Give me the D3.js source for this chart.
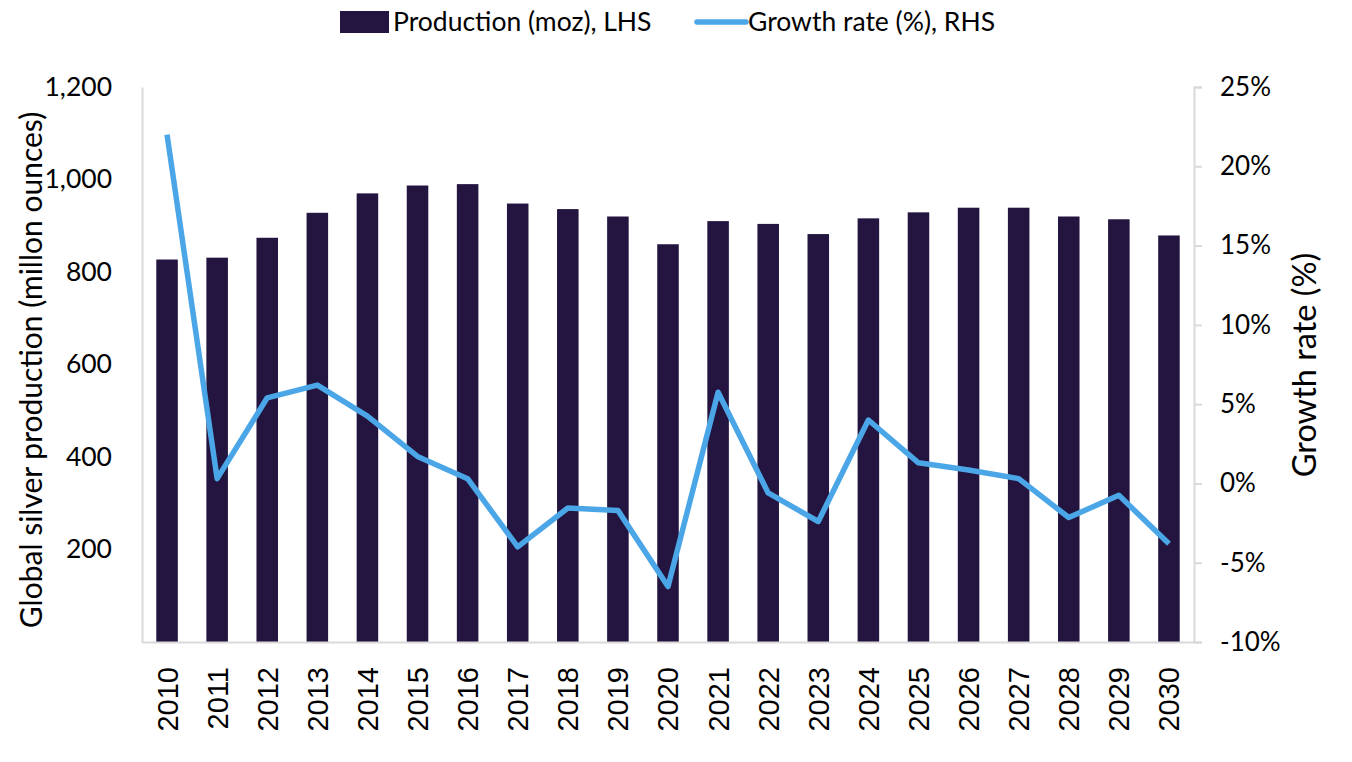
<!DOCTYPE html>
<html>
<head>
<meta charset="utf-8">
<script src="https://cdn.jsdelivr.net/npm/d3@7"></script>
<style>
  html, body { margin: 0; padding: 0; background: #ffffff; }
  svg { display: block; }
</style>
</head>
<body>
<svg id="chart" width="1352" height="762"></svg>
<script>
const years = ["2010","2011","2012","2013","2014","2015","2016","2017","2018","2019","2020",
               "2021","2022","2023","2024","2025","2026","2027","2028","2029","2030"];
const production = [827, 831, 874, 928, 970, 987, 990, 948, 936, 920, 860,
                    910, 904, 882, 916, 929, 939, 939, 920, 914, 879];
const growth = [22.0, 0.3, 5.4, 6.2, 4.25, 1.7, 0.3, -4.0, -1.55, -1.7, -6.5,
                5.75, -0.6, -2.4, 4.0, 1.3, 0.85, 0.3, -2.15, -0.75, -3.8];
const leftTicks = [200, 400, 600, 800, 1000, 1200];
const rightTicks = [-10, -5, 0, 5, 10, 15, 20, 25];
const legendLabels = ["Production (moz), LHS", "Growth rate (%), RHS"];
const leftTitle = "Global silver production (millon ounces)";
const rightTitle = "Growth rate (%)";

const barColor = "#231540";
const lineColor = "#4BA6E7";
const axisColor = "#D9D9D9";
const textColor = "#000000";
const uiFont = "Lato, 'Open Sans', 'Noto Sans', sans-serif";
const xFont = "'Liberation Sans', Arial, sans-serif";

const svg = d3.select("#chart");
const L = 142, R = 1194, T = 87, B = 642;

const x = d3.scaleBand().domain(years).range([L, R]).paddingInner(0.57).paddingOuter(0.285);
const yL = d3.scaleLinear().domain([0, 1200]).range([B, T]);
const yR = d3.scaleLinear().domain([-10, 25]).range([B, T]);

// Bars
svg.append("g").selectAll("rect").data(years).join("rect")
  .attr("x", d => x(d))
  .attr("width", x.bandwidth())
  .attr("y", (d, i) => yL(production[i]))
  .attr("height", (d, i) => yL(0) - yL(production[i]))
  .attr("fill", barColor);

// Left axis (line only, no tick marks)
const gL = svg.append("g").attr("transform", `translate(${L},0)`)
  .call(d3.axisLeft(yL).tickValues(leftTicks).tickFormat(d3.format(",")).tickSize(0).tickPadding(30));
gL.select(".domain").attr("stroke", axisColor).attr("stroke-width", 2);
gL.selectAll("text").attr("font-family", uiFont).attr("font-size", 26.5).attr("fill", textColor);

// Right axis
const gR = svg.append("g").attr("transform", `translate(${R},0)`)
  .call(d3.axisRight(yR).tickValues(rightTicks).tickFormat(d => d + "%").tickSize(8).tickSizeOuter(8).tickPadding(18));
gR.select(".domain").attr("stroke", axisColor).attr("stroke-width", 2);
gR.selectAll(".tick line").attr("stroke", axisColor).attr("stroke-width", 2);
gR.selectAll("text").attr("font-family", uiFont).attr("font-size", 26).attr("fill", textColor);

// Bottom axis
const gB = svg.append("g").attr("transform", `translate(0,${B})`)
  .call(d3.axisBottom(x).tickSize(0).tickSizeOuter(0));
gB.select(".domain").attr("stroke", axisColor).attr("stroke-width", 2);
gB.selectAll("text")
  .attr("font-family", xFont).attr("font-size", 29).attr("fill", textColor)
  .attr("text-anchor", "end")
  .attr("transform", "rotate(-90)")
  .attr("x", -25).attr("y", 0).attr("dy", "0.36em");

// Growth line
const line = d3.line()
  .x((d, i) => x(years[i]) + x.bandwidth() / 2)
  .y(d => yR(d));
svg.append("path").datum(growth)
  .attr("d", line)
  .attr("fill", "none")
  .attr("stroke", lineColor)
  .attr("stroke-width", 5.5)
  .attr("stroke-linejoin", "round");

// Axis titles
svg.append("text")
  .attr("transform", `translate(42,370) rotate(-90)`)
  .attr("text-anchor", "middle")
  .attr("font-family", uiFont).attr("font-size", 30).attr("fill", textColor)
  .text(leftTitle);
svg.append("text")
  .attr("transform", `translate(1316,365) rotate(-90)`)
  .attr("text-anchor", "middle")
  .attr("font-family", uiFont).attr("font-size", 32.5).attr("fill", textColor)
  .text(rightTitle);

// Legend
const leg = svg.append("g");
leg.append("rect").attr("x", 340).attr("y", 11).attr("width", 49).attr("height", 22).attr("fill", barColor);
leg.append("text").attr("x", 393).attr("y", 22).attr("dy", "0.35em")
  .attr("font-family", uiFont).attr("font-size", 26.5).attr("fill", textColor).text(legendLabels[0]);
leg.append("line").attr("x1", 697).attr("x2", 746).attr("y1", 22).attr("y2", 22)
  .attr("stroke", lineColor).attr("stroke-width", 5.5).attr("stroke-linecap", "round");
leg.append("text").attr("x", 748).attr("y", 22).attr("dy", "0.35em")
  .attr("font-family", uiFont).attr("font-size", 26.5).attr("fill", textColor).text(legendLabels[1]);
</script>
</body>
</html>
